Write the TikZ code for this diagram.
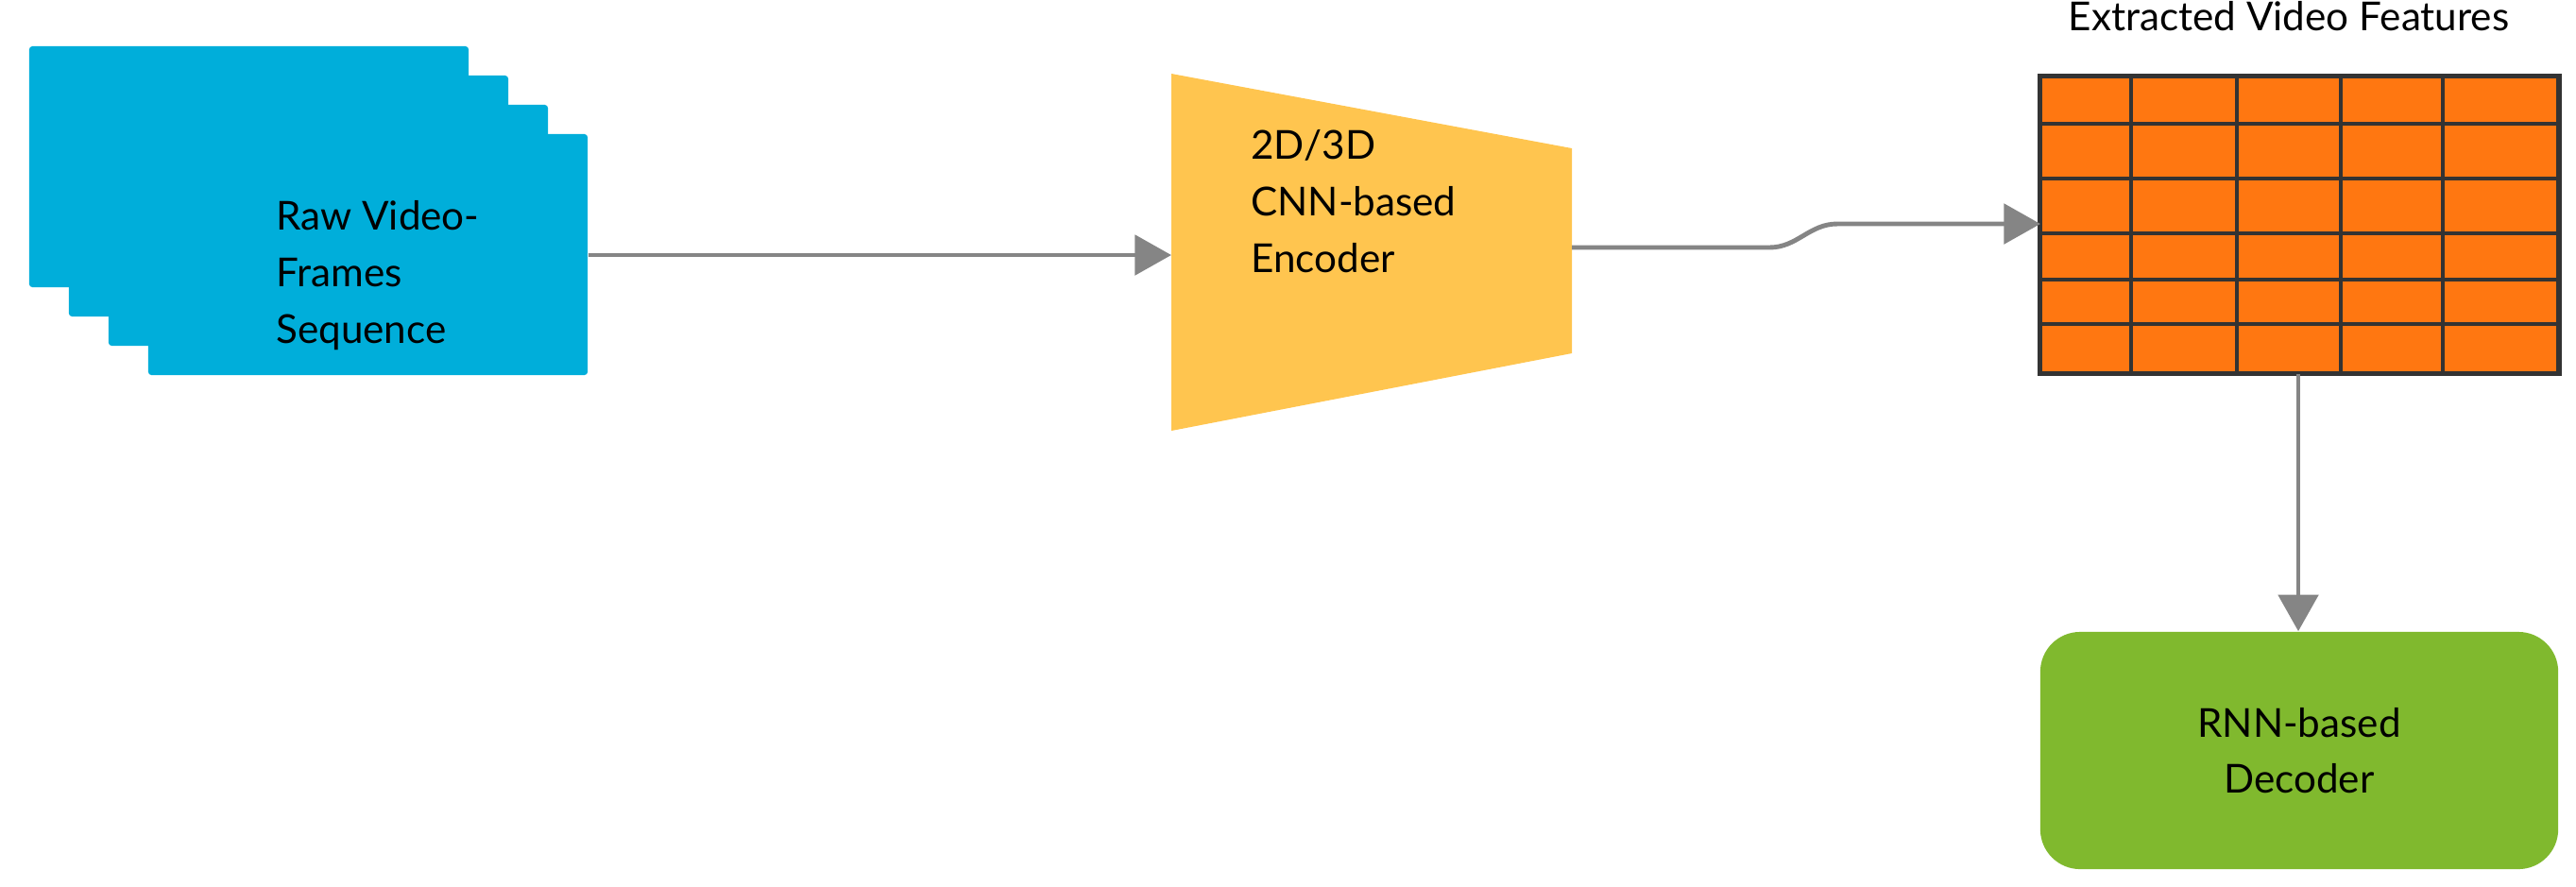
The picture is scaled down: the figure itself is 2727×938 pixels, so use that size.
\documentclass[tikz,border=0pt]{standalone}
\usepackage{fontspec}
\setmainfont{Lato}
\usetikzlibrary{arrows.meta,positioning}
\definecolor{fblue}{HTML}{00AEDA}
\definecolor{eyel}{HTML}{FFC54F}
\definecolor{gor}{HTML}{FF7711}
\definecolor{dgreen}{HTML}{80B92E}
\definecolor{agray}{HTML}{858585}
\tikzset{
  frame/.style={fill=fblue,draw=none,minimum width=4.65cm,minimum height=2.55cm,inner sep=0pt,rounded corners=1pt},
  conn/.style={draw=agray,line width=1.4pt,-{Triangle[length=11pt,width=12pt]}},
  lbl/.style={font=\fontsize{12}{17}\selectfont,align=left},
}
\begin{document}
\begin{tikzpicture}[x=0.01cm,y=-0.01cm]
\useasboundingbox (0,0) rectangle (2727,938);
% frames
\node[frame] (f1) at (263.5,176.5) {};
\node[frame] (f2) at (305.5,207.5) {};
\node[frame] (f3) at (347.5,238.5) {};
\node[frame] (f4) at (389.5,269.5) {};
\node[lbl,anchor=north west] (ftxt) at (280,200) {Raw Video-\\Frames\\Sequence};
% encoder
\coordinate (e1) at (1240,78);
\coordinate (e2) at (1664,157);
\coordinate (e3) at (1664,374);
\coordinate (e4) at (1240,456);
\fill[eyel] (e1) -- (e2) -- (e3) -- (e4) -- cycle;
\node[lbl,anchor=north west] (enc) at (1312,125) {2D/3D\\CNN-based\\Encoder};
\coordinate (encin) at (1240,270);
\coordinate (encout) at (1664,262);
% grid
\node[fill=gor,draw=none,minimum width=5.48cm,minimum height=3.14cm,inner sep=0pt] (grid) at (2434,238) {};
\foreach \x in {2256,2368,2478,2586} \draw[line width=1.4pt,draw=black!80] (\x,81) -- (\x,395);
\foreach \y in {131,189,247,296,343} \draw[line width=1.4pt,draw=black!80] (2160,\y) -- (2708,\y);
\draw[line width=1.5pt,draw=black!80] (grid.north west) rectangle (grid.south east);
\node[font=\fontsize{12}{14}\selectfont,anchor=south] (gtitle) at (2423,45) {Extracted Video Features};
\coordinate (gin) at (2160,237);
% decoder
\node[fill=dgreen,draw=none,rounded corners=12pt,minimum width=5.48cm,minimum height=2.51cm,align=center,font=\fontsize{12}{17}\selectfont] (dec) at (2434,794.5) {RNN-based\\Decoder};
% connectors
\draw[conn] (f4.east |- encin) -- (encin);
\draw[conn] (encout) -- (1873,262) to[out=0,in=180] (1945,237) -- (gin);
\draw[conn] (grid.south -| 2433,0) -- (dec.north -| 2433,0);
\end{tikzpicture}
\end{document}
